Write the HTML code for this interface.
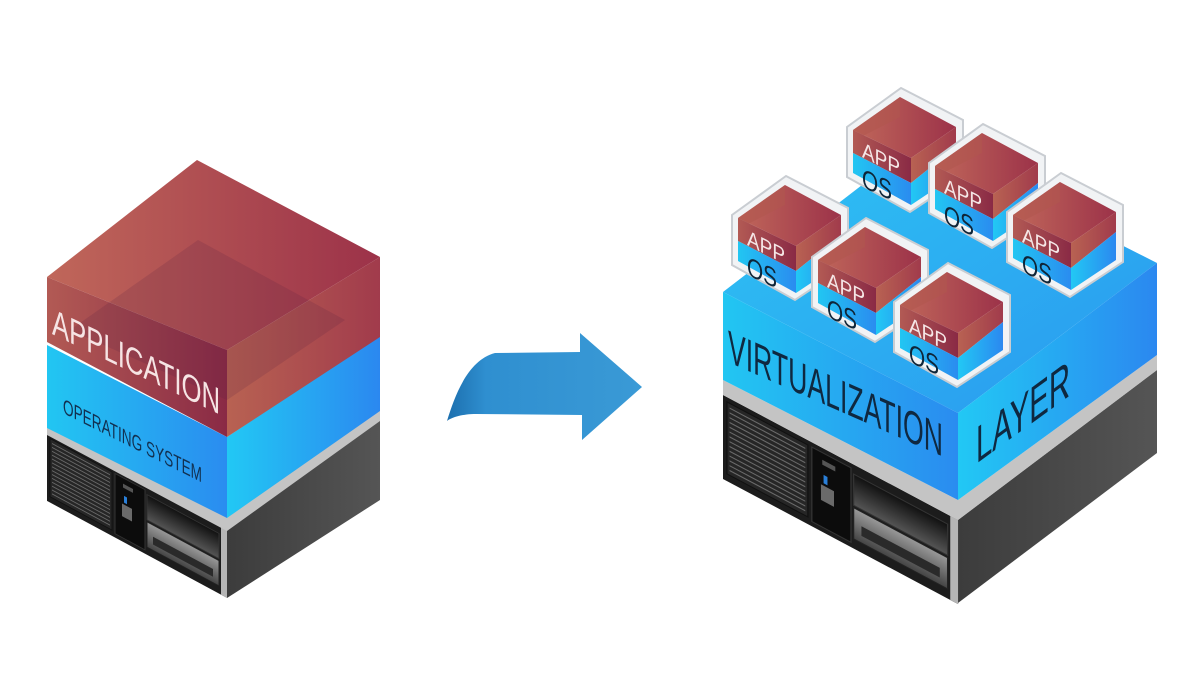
<!DOCTYPE html>
<html><head><meta charset="utf-8"><style>
html,body{margin:0;padding:0;background:#fff;}
svg{display:block;}
text{font-family:"Liberation Sans","DejaVu Sans",sans-serif;}
</style></head><body>
<svg width="1200" height="676" viewBox="0 0 1200 676" xmlns="http://www.w3.org/2000/svg">
<defs>
  <linearGradient id="redTop" x1="0" y1="0" x2="1" y2="0">
    <stop offset="0" stop-color="#c0675a"/><stop offset="1" stop-color="#9c3249"/>
  </linearGradient>
  <linearGradient id="redL" x1="0" y1="0" x2="1" y2="0">
    <stop offset="0" stop-color="#b25a54"/><stop offset="1" stop-color="#8a2a45"/>
  </linearGradient>
  <linearGradient id="redR" x1="0" y1="0" x2="1" y2="0">
    <stop offset="0" stop-color="#b86252"/><stop offset="1" stop-color="#a13b4c"/>
  </linearGradient>
  <linearGradient id="blueL" x1="0" y1="0" x2="1" y2="0">
    <stop offset="0" stop-color="#22c6f2"/><stop offset="1" stop-color="#2a8cf0"/>
  </linearGradient>
  <linearGradient id="blueR" x1="0" y1="0" x2="1" y2="0">
    <stop offset="0" stop-color="#22c8f4"/><stop offset="1" stop-color="#2b88f0"/>
  </linearGradient>
  <linearGradient id="blueT" x1="0" y1="0" x2="1" y2="1">
    <stop offset="0" stop-color="#2ec4f4"/><stop offset="1" stop-color="#2a98ef"/>
  </linearGradient>
  <linearGradient id="srvR" x1="0" y1="0" x2="1" y2="0">
    <stop offset="0" stop-color="#3c3c3c"/><stop offset="1" stop-color="#555"/>
  </linearGradient>
  <linearGradient id="bay" x1="0" y1="0" x2="0" y2="1">
    <stop offset="0" stop-color="#111"/><stop offset="1" stop-color="#555"/>
  </linearGradient>
  <linearGradient id="bay2" x1="0" y1="0" x2="0" y2="1">
    <stop offset="0" stop-color="#999"/><stop offset="1" stop-color="#444"/>
  </linearGradient>
  <linearGradient id="arrow" x1="0" y1="0" x2="1" y2="0">
    <stop offset="0" stop-color="#1c6fae"/><stop offset="0.2" stop-color="#2f8fd0"/><stop offset="1" stop-color="#3a9ad6"/>
  </linearGradient>

  <g id="srv">
    <rect x="0" y="0" width="180" height="70" fill="#1c1c1c"/>
    <rect x="3" y="4" width="62" height="60" fill="#262626" stroke="#111" stroke-width="1"/>
    <g stroke="#6a6a6a" stroke-width="1">
      <line x1="5" y1="8" x2="63" y2="8"/><line x1="5" y1="12" x2="63" y2="12"/>
      <line x1="5" y1="16" x2="63" y2="16"/><line x1="5" y1="20" x2="63" y2="20"/>
      <line x1="5" y1="24" x2="63" y2="24"/><line x1="5" y1="28" x2="63" y2="28"/>
      <line x1="5" y1="32" x2="63" y2="32"/><line x1="5" y1="36" x2="63" y2="36"/>
      <line x1="5" y1="40" x2="63" y2="40"/><line x1="5" y1="44" x2="63" y2="44"/>
      <line x1="5" y1="48" x2="63" y2="48"/><line x1="5" y1="52" x2="63" y2="52"/>
      <line x1="5" y1="56" x2="63" y2="56"/><line x1="5" y1="60" x2="63" y2="60"/>
    </g>
    <rect x="68" y="4" width="30" height="62" fill="#0c0c0c" stroke="#333" stroke-width="1"/>
    <rect x="76" y="10" width="10" height="4" fill="#555"/>
    <rect x="77" y="22" width="3" height="7" fill="#2a7fd8"/>
    <rect x="75" y="31" width="10" height="13" fill="#6a6a6a"/>
    <rect x="100" y="8" width="72" height="26" fill="url(#bay)" stroke="#333" stroke-width="1"/>
    <rect x="100" y="36" width="72" height="26" fill="url(#bay2)" stroke="#222" stroke-width="1"/>
    <rect x="106" y="48" width="60" height="8" fill="#2a2a2a"/>
    <rect x="174" y="0" width="6" height="70" fill="#b5b5b5"/>
  </g>

  <g id="vm">
    <polygon points="-10,-117 52,-85 52,-28 -1,7 -64,-28 -64,-78" fill="#f1f3f5" stroke="#c9cdd2" stroke-width="2"/>
    <polygon points="-11,-108 45,-78 0,-47 -58,-75" fill="url(#redTop)"/>
    <polygon points="-11,-108 -11,-88 -50,-68 -58,-75" fill="#b0564f" opacity="0.6"/>
    <polygon points="-58,-75 0,-47 0,-22 -58,-52" fill="url(#redL)"/>
    <polygon points="0,-47 45,-78 45,-58 0,-22" fill="url(#redR)"/>
    <polygon points="-58,-52 0,-22 0,0 -58,-32" fill="url(#blueL)"/>
    <polygon points="0,-22 45,-58 45,-30 0,0" fill="url(#blueR)"/>
    <text transform="matrix(1,0.5,0,1,-49,-48)" font-size="22" fill="#f5e6e6" textLength="38" lengthAdjust="spacingAndGlyphs">APP</text>
    <text transform="matrix(1,0.45,0,1,-49,-18)" font-size="27" fill="#0f2538" textLength="30" lengthAdjust="spacingAndGlyphs">OS</text>
  </g>
</defs>

<!-- LEFT STACK -->
<polygon points="227,530 380,420 380,500 227,598" fill="url(#srvR)"/>
<g transform="matrix(1,0.539,0,1,47,433) scale(1,0.97)"><use href="#srv"/></g>
<polygon points="47,426 227,516 380,410 380,421 227,531 47,435" fill="#c4c4c4"/>
<polygon points="47,345 227,437 227,518 47,428" fill="url(#blueL)"/>
<polygon points="227,437 380,335 380,411 227,518" fill="url(#blueR)"/>
<text transform="matrix(1,0.5,0,1,63,413)" font-size="21" fill="#123050" textLength="139" lengthAdjust="spacingAndGlyphs">OPERATING SYSTEM</text>
<polygon points="197,160 380,257 227,350 47,277" fill="url(#redTop)"/>
<polygon points="47,277 227,350 227,437 47,342" fill="url(#redL)"/>
<polygon points="227,350 380,257 380,337 227,437" fill="url(#redR)"/>
<polygon points="198,240 345,320 227,400 70,330" fill="#5a2040" opacity="0.18"/>
<text transform="matrix(1,0.48,0,1,52,334)" font-size="37" fill="#f6e4e4" textLength="168" lengthAdjust="spacingAndGlyphs">APPLICATION</text>

<!-- ARROW -->
<path d="M447,421 C455,395 468,360 495,353 L580,352 L580,333 L642,387 L582,440 L582,415 L476,414 C463,414 452,417 447,421 Z" fill="url(#arrow)"/>

<!-- RIGHT STACK -->
<polygon points="958,520 1157,370 1157,453 958,603" fill="url(#srvR)"/>
<g transform="matrix(1,0.532,0,1,723,395) scale(1.306,1.2)"><use href="#srv"/></g>
<polygon points="723,380 958,500 1157,355 1157,370 958,520 723,395" fill="#c4c4c4"/>
<polygon points="918,142 1157,263 958,413 723,292" fill="url(#blueT)"/>
<polygon points="723,292 958,413 958,500 723,380" fill="url(#blueL)"/>
<polygon points="958,413 1157,263 1157,355 958,500" fill="url(#blueR)"/>
<text transform="matrix(1,0.44,0,1,728,362)" font-size="46" fill="#0f2840" textLength="215" lengthAdjust="spacingAndGlyphs">VIRTUALIZATION</text>
<text transform="matrix(1,-0.73,0,1,976,464)" font-size="52" fill="#0f2840" textLength="94" lengthAdjust="spacingAndGlyphs">LAYER</text>

<use href="#vm" transform="translate(911,205)"/>
<use href="#vm" transform="translate(993,241)"/>
<use href="#vm" transform="translate(1071,290)"/>
<use href="#vm" transform="translate(796,293)"/>
<use href="#vm" transform="translate(876,335)"/>
<use href="#vm" transform="translate(958,380)"/>
</svg>
</body></html>
